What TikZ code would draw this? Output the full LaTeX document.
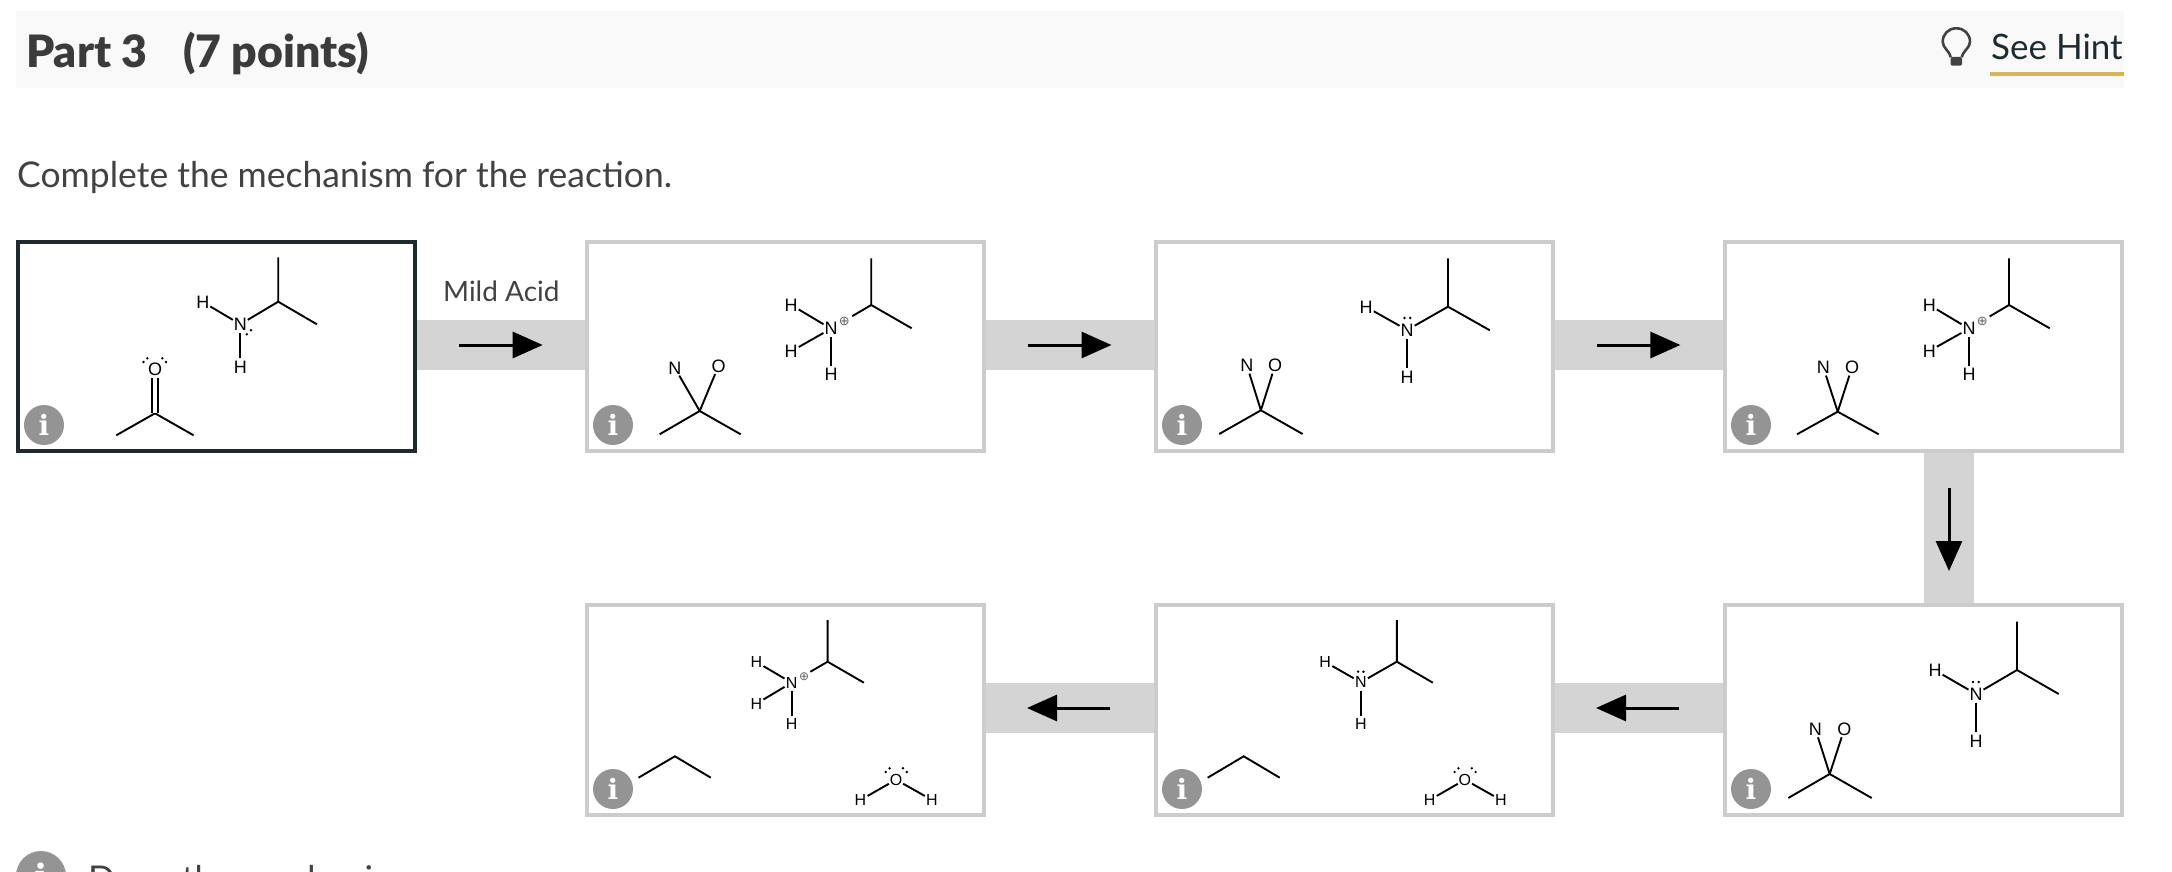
\documentclass[tikz,border=0pt]{standalone}
\usepackage{fontspec}
\setmainfont{Lato}
\newfontfamily\titlefont{Lato Black}
\newfontfamily\chemfont{Liberation Sans}
\newfontfamily\symfont{DejaVu Sans}
\newfontfamily\infofont{DejaVu Serif}
\usetikzlibrary{arrows.meta}
\definecolor{boxgray}{HTML}{CCCCCC}
\definecolor{bandgray}{HTML}{D4D4D4}
\definecolor{boxdark}{HTML}{1F2A2E}
\definecolor{infogray}{HTML}{949495}
\definecolor{headbg}{HTML}{F9F9F9}
\definecolor{txt}{HTML}{424242}
\definecolor{hintgold}{HTML}{D6B65A}
\tikzset{
  panel/.style={draw=boxgray,fill=white,line width=3.8pt,minimum width=397pt,minimum height=209.4pt,inner sep=0pt},
  firstpanel/.style={panel,draw=boxdark},
  band/.style={bandgray,line width=50pt},
  rx/.style={black,line width=3pt,-{Triangle[length=30pt,width=26pt]}},
  bond/.style={black,line width=1.9pt},
  atom/.style={circle,inner sep=-3pt,minimum size=17pt,font=\chemfont\fontsize{18}{18}\selectfont,text=black},
  smallatom/.style={atom,minimum size=16pt,font=\chemfont\fontsize{16}{16}\selectfont},
  charge/.style={inner sep=0pt,text=black!60,font=\symfont\fontsize{13}{13}\selectfont},
  infoicon/.style={circle,fill=infogray,minimum size=40pt,inner sep=0pt,text=white,font=\infofont\bfseries\fontsize{28}{28}\selectfont},
  bigicon/.style={infoicon,minimum size=50pt,font=\infofont\bfseries\fontsize{35}{35}\selectfont},
  ep/.style={black},
  label/.style={inner sep=0pt,anchor=base west},
}
\newcommand{\lp}[1]{\fill[ep] (#1) circle (1.35pt);}
\begin{document}
\begin{tikzpicture}[x=1pt,y=-1pt]
\useasboundingbox (0,0) rectangle (2172,872);
\begin{scope}
\clip (0,0) rectangle (2172,872);
\fill[white] (0,0) rectangle (2172,872);
% header
\node[fill=headbg,minimum width=2108pt,minimum height=77pt,inner sep=0pt] (head) at (1070,49.5) {};
\node[label,text=txt!90!black,font=\titlefont\fontsize{44.6}{46}\selectfont] (title) at (26,67.5) {Part 3\hspace{0.8em}(7 points)};
\node[label,text=boxdark,font=\fontsize{35}{40}\selectfont] (hint) at (1991,60) {See Hint};
\fill[hintgold] (1990,72) rectangle (2124,76);
\draw[txt,line width=2.6pt] (1950.7,57.3) .. controls (1949,50) and (1942.7,48) .. (1942.7,41.7) .. controls (1942.7,34.1) and (1948.4,28.3) .. (1956.3,28.3) .. controls (1964.2,28.3) and (1970,34.1) .. (1970,41.7) .. controls (1970,48) and (1963.5,50) .. (1961.7,57.3);
\fill[txt,rounded corners=2pt] (1950.5,57) rectangle (1962,65.7);
\node[label,text=txt,font=\fontsize{35.5}{40}\selectfont] (prompt) at (17,188) {Complete the mechanism for the reaction.};
\node[label,text=txt,font=\fontsize{28}{30}\selectfont] (mild) at (443,301.5) {Mild Acid};
% panels
\node[firstpanel] (b1) at (216.5,346.4) {};
\node[panel] (b2) at (785.5,346.4) {};
\node[panel] (b3) at (1354.5,346.4) {};
\node[panel] (b4) at (1923.5,346.4) {};
\node[panel] (b5) at (1923.5,710) {};
\node[panel] (b6) at (1354.5,710) {};
\node[panel] (b7) at (785.5,710) {};
% connectors
\coordinate (a1s) at (459,345);      \coordinate (a1e) at (542.7,345);
\coordinate (a2s) at (1028,345);     \coordinate (a2e) at (1111.5,345);
\coordinate (a3s) at (1597.3,345);   \coordinate (a3e) at (1680.4,345);
\coordinate (a4s) at (1949,488);     \coordinate (a4e) at (1949,571);
\coordinate (a5s) at (1679,708);     \coordinate (a5e) at (1596,708);
\coordinate (a6s) at (1109.6,708);   \coordinate (a6e) at (1027,708);
\draw[band] (b1.east |- a1s) -- (b2.west |- a1s);
\draw[band] (b2.east |- a2s) -- (b3.west |- a2s);
\draw[band] (b3.east |- a3s) -- (b4.west |- a3s);
\draw[band] (b4.south -| a4s) -- (b5.north -| a4s);
\draw[band] (b5.west |- a5s) -- (b6.east |- a5s);
\draw[band] (b6.west |- a6s) -- (b7.east |- a6s);
\draw[rx] (a1s) -- (a1e);
\draw[rx] (a2s) -- (a2e);
\draw[rx] (a3s) -- (a3e);
\draw[rx] (a4s) -- (a4e);
\draw[rx] (a5s) -- (a5e);
\draw[rx] (a6s) -- (a6e);
% info icons
\node[infoicon] (i1) at (44,425) {i};
\node[infoicon] (i2) at (613,425) {i};
\node[infoicon] (i3) at (1182,425) {i};
\node[infoicon] (i4) at (1751,425) {i};
\node[infoicon] (i5) at (1751,789) {i};
\node[infoicon] (i6) at (1182,789) {i};
\node[infoicon] (i7) at (613,789) {i};
\node[bigicon] (i8) at (41,876) {i};
\node[label,text=txt,font=\fontsize{35.5}{40}\selectfont] (draw) at (88,891) {Draw the mechanism};
% ---- panel 1
\coordinate (p1t) at (278.2,257.3); \coordinate (p1c) at (278.2,301.7); \coordinate (p1r) at (316.9,324.3);
\node[atom] (p1n) at (240.3,324.3) {N};
\node[atom] (p1h) at (202.8,302) {H};
\node[atom] (p1h2) at (240.3,367) {H};
\draw[bond] (p1t) -- (p1c) -- (p1r);
\draw[bond] (p1c) -- (p1n);
\draw[bond] (p1h) -- (p1n);
\draw[bond] (p1n) -- (p1h2);
\lp{246.8,334.3} \lp{251,330.3}
\coordinate (p1k) at (155,413.3); \coordinate (p1kl) at (116.3,435.3); \coordinate (p1kr) at (193.6,435.3);
\node[atom] (p1o) at (155,369.3) {O};
\draw[bond] (p1kl) -- (p1k) -- (p1kr);
\draw[bond,double,double distance=4.2pt] (p1o) -- (p1k);
\lp{143.5,362} \lp{147.3,358.3} \lp{162.3,358.3} \lp{166,362}
% ---- panel 2
\coordinate (p2t) at (871.2,258.3); \coordinate (p2c) at (871.2,305); \coordinate (p2r) at (911.7,328.3);
\node[atom] (p2n) at (831,328.7) {N};
\node[charge] (p2p) at (844.4,321.7) {⊕};
\node[atom] (p2h1) at (791.2,305) {H};
\node[atom] (p2h2) at (791.2,351.3) {H};
\node[atom] (p2h3) at (831,374.7) {H};
\draw[bond] (p2t) -- (p2c) -- (p2r);
\draw[bond,shorten >=16pt] (p2c) -- (p2n);
\draw[bond] (p2h1) -- (p2n);
\draw[bond] (p2h2) -- (p2n);
\draw[bond] (p2n) -- (p2h3);
\coordinate (p2k) at (699.7,411); \coordinate (p2kl) at (659.6,434.3); \coordinate (p2kr) at (740.7,434.3);
\node[atom] (p2fn) at (674.9,368) {N};
\node[atom] (p2fo) at (718.5,366) {O};
\draw[bond] (p2kl) -- (p2k) -- (p2kr);
\draw[bond] (p2fn) -- (p2k);
\draw[bond] (p2fo) -- (p2k);
% ---- panel 3
\coordinate (p3t) at (1448,258.3); \coordinate (p3c) at (1448,306.7); \coordinate (p3r) at (1489.8,330.3);
\node[atom] (p3n) at (1407.1,330) {N};
\node[atom] (p3h1) at (1366.2,307) {H};
\node[atom] (p3h2) at (1407.1,377) {H};
\draw[bond] (p3t) -- (p3c) -- (p3r);
\draw[bond] (p3c) -- (p3n);
\draw[bond] (p3h1) -- (p3n);
\draw[bond] (p3n) -- (p3h2);
\lp{1404.4,318} \lp{1410.2,318}
\coordinate (p3k) at (1260.9,410.3); \coordinate (p3kl) at (1219.2,434); \coordinate (p3kr) at (1302.6,434);
\node[atom] (p3fn) at (1246.8,365.3) {N};
\node[atom] (p3fo) at (1275.1,365.3) {O};
\draw[bond] (p3kl) -- (p3k) -- (p3kr);
\draw[bond] (p3fn) -- (p3k);
\draw[bond] (p3fo) -- (p3k);
% ---- panel 4
\coordinate (p4t) at (2009,258.3); \coordinate (p4c) at (2009,305); \coordinate (p4r) at (2049.7,328.3);
\node[atom] (p4n) at (1969,328.7) {N};
\node[charge] (p4p) at (1982.3,321.7) {⊕};
\node[atom] (p4h1) at (1929.3,305) {H};
\node[atom] (p4h2) at (1929.3,351) {H};
\node[atom] (p4h3) at (1969,374.7) {H};
\draw[bond] (p4t) -- (p4c) -- (p4r);
\draw[bond,shorten >=15.3pt] (p4c) -- (p4n);
\draw[bond] (p4h1) -- (p4n);
\draw[bond] (p4h2) -- (p4n);
\draw[bond] (p4n) -- (p4h3);
\coordinate (p4k) at (1837.7,411.7); \coordinate (p4kl) at (1797,434.3); \coordinate (p4kr) at (1878.7,434.3);
\node[atom] (p4fn) at (1823.3,367.3) {N};
\node[atom] (p4fo) at (1852,367.3) {O};
\draw[bond] (p4kl) -- (p4k) -- (p4kr);
\draw[bond] (p4fn) -- (p4k);
\draw[bond] (p4fo) -- (p4k);
% ---- panel 5
\coordinate (p5t) at (2017,621.7); \coordinate (p5c) at (2017,670); \coordinate (p5r) at (2058.7,694);
\node[atom] (p5n) at (1976,694) {N};
\node[atom] (p5h1) at (1935,670.3) {H};
\node[atom] (p5h2) at (1976,741) {H};
\draw[bond] (p5t) -- (p5c) -- (p5r);
\draw[bond] (p5c) -- (p5n);
\draw[bond] (p5h1) -- (p5n);
\draw[bond] (p5n) -- (p5h2);
\lp{1973,682} \lp{1978.7,682}
\coordinate (p5k) at (1829.7,774); \coordinate (p5kl) at (1788.3,798); \coordinate (p5kr) at (1871.7,798);
\node[atom] (p5fn) at (1815.3,729) {N};
\node[atom] (p5fo) at (1844.3,729) {O};
\draw[bond] (p5kl) -- (p5k) -- (p5kr);
\draw[bond] (p5fn) -- (p5k);
\draw[bond] (p5fo) -- (p5k);
% ---- panel 6
\coordinate (p6t) at (1396.8,620); \coordinate (p6c) at (1396.8,661.7); \coordinate (p6r) at (1432.8,682.7);
\node[smallatom] (p6n) at (1360.8,682.3) {N};
\node[smallatom] (p6h1) at (1325.2,662) {H};
\node[smallatom] (p6h2) at (1360.8,723.7) {H};
\draw[bond] (p6t) -- (p6c) -- (p6r);
\draw[bond] (p6c) -- (p6n);
\draw[bond] (p6h1) -- (p6n);
\draw[bond] (p6n) -- (p6h2);
\lp{1358.1,671.7} \lp{1363.5,671.7}
\coordinate (p6a) at (1207.7,777.7); \coordinate (p6b) at (1243.7,756.3); \coordinate (p6d) at (1279.7,777.7);
\draw[bond] (p6a) -- (p6b) -- (p6d);
\node[smallatom] (p6o) at (1464.9,779.7) {O};
\node[smallatom] (p6wl) at (1429.7,800) {H};
\node[smallatom] (p6wr) at (1500.9,800) {H};
\draw[bond] (p6wl) -- (p6o);
\draw[bond] (p6o) -- (p6wr);
\lp{1454.6,772} \lp{1458.4,768.3} \lp{1471.8,768.3} \lp{1475.6,772}
% ---- panel 7
\coordinate (p7t) at (827.6,620); \coordinate (p7c) at (827.6,661.7); \coordinate (p7r) at (863.9,682.7);
\node[smallatom] (p7n) at (791.6,682.7) {N};
\node[charge,font=\symfont\fontsize{12}{12}\selectfont] (p7p) at (804.2,676.3) {⊕};
\node[smallatom] (p7h1) at (756.4,662) {H};
\node[smallatom] (p7h2) at (756.4,703.7) {H};
\node[smallatom] (p7h3) at (791.6,723.7) {H};
\draw[bond] (p7t) -- (p7c) -- (p7r);
\draw[bond,shorten >=13.5pt] (p7c) -- (p7n);
\draw[bond] (p7h1) -- (p7n);
\draw[bond] (p7h2) -- (p7n);
\draw[bond] (p7n) -- (p7h3);
\coordinate (p7a) at (638.5,777.7); \coordinate (p7b) at (674.9,756.3); \coordinate (p7d) at (710.8,777.7);
\draw[bond] (p7a) -- (p7b) -- (p7d);
\node[smallatom] (p7o) at (896,779.7) {O};
\node[smallatom] (p7wl) at (860.5,800) {H};
\node[smallatom] (p7wr) at (932,800) {H};
\draw[bond] (p7wl) -- (p7o);
\draw[bond] (p7o) -- (p7wr);
\lp{885.7,772} \lp{889.6,768.3} \lp{903,768.3} \lp{906.8,772}
\end{scope}
\end{tikzpicture}
\end{document}
